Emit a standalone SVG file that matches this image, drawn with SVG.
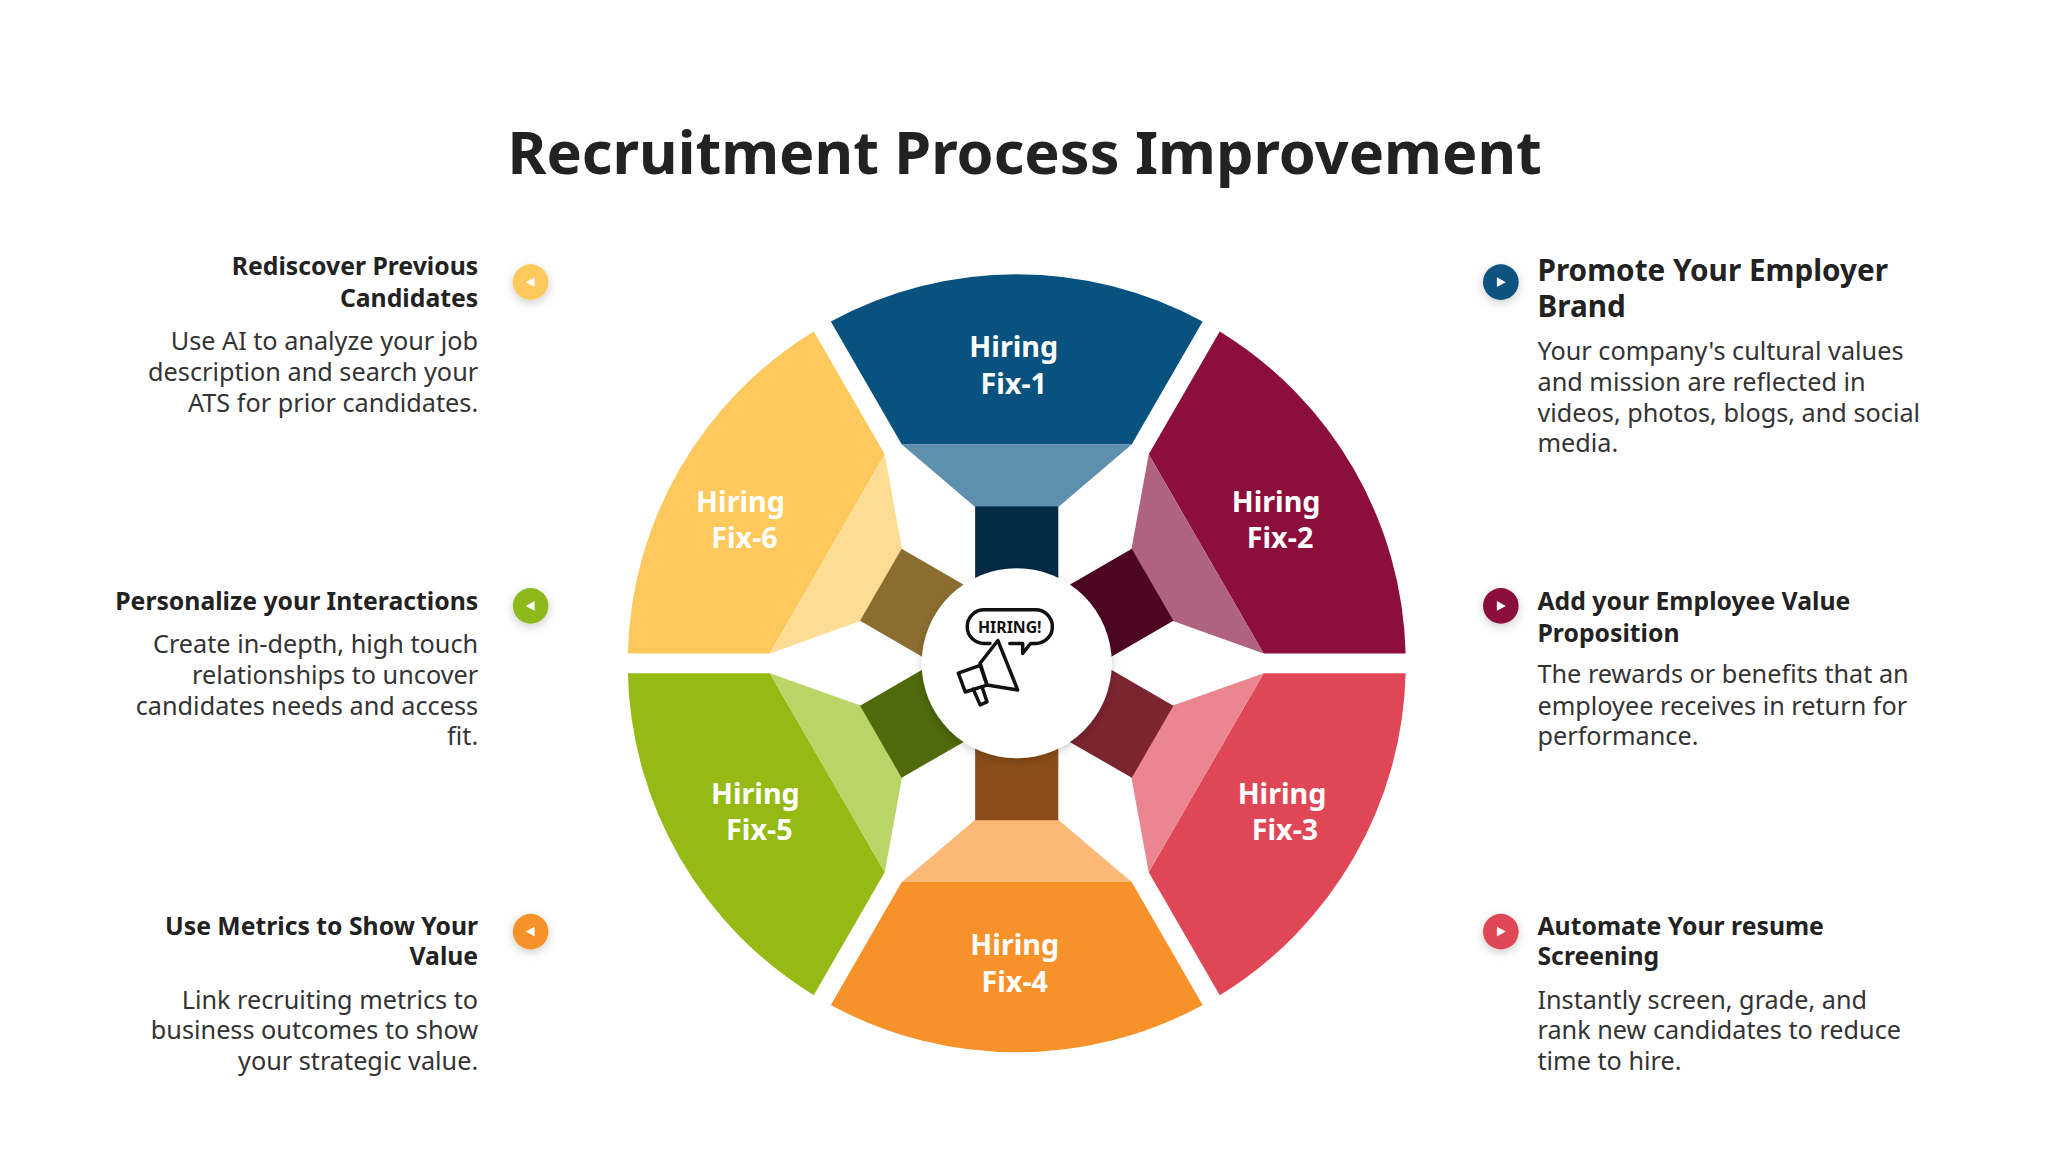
<svg xmlns="http://www.w3.org/2000/svg" width="2048" height="1152" viewBox="0 0 2048 1152">
<defs>
<filter id="sh" x="-50%" y="-50%" width="200%" height="200%"><feDropShadow dx="0" dy="3" stdDeviation="5" flood-color="#000" flood-opacity="0.2"/></filter>
<path id="outer" d="M -116.1,-221 L -187.8,-345.2 A 393 393 0 0 1 187.8,-345.2 L 116.1,-221 Z"/>
<path id="light" d="M -116.1,-221 L 116.1,-221 L 42,-158 L -42,-158 Z"/>
<rect id="bar" x="-42" y="-158.5" width="84" height="75"/>
</defs>
<style>
.lbl{font-family:"Noto Sans","Open Sans",sans-serif;font-weight:bold;font-size:29px;fill:#fff;text-anchor:middle}
.h{font-family:"Noto Sans","Open Sans",sans-serif;font-weight:bold;font-size:25px;fill:#222}
.big{font-size:30px}
.b{font-family:"Noto Sans","Open Sans",sans-serif;font-size:25.5px;fill:#333}
.l{text-anchor:end}
</style>
<rect width="2048" height="1152" fill="#fff"/>
<g transform="scale(0.99)">
<text x="1035" y="176" text-anchor="middle" font-family="Noto Sans,Open Sans,sans-serif" font-weight="bold" font-size="60" fill="#222">Recruitment Process Improvement</text>
<g transform="translate(1027,670)">
<g id="fix1"><use href="#outer" fill="#09527F"/><use href="#light" fill="#5E8FAD"/><use href="#bar" fill="#032B45"/></g>
<g id="fix2" transform="rotate(60)"><use href="#outer" fill="#8B0E3C"/><use href="#light" fill="#B0637F"/><use href="#bar" fill="#4D0622"/></g>
<g id="fix3" transform="rotate(120)"><use href="#outer" fill="#E04756"/><use href="#light" fill="#EB8590"/><use href="#bar" fill="#7C2530"/></g>
<g id="fix4" transform="rotate(180)"><use href="#outer" fill="#F7922B"/><use href="#light" fill="#FCB877"/><use href="#bar" fill="#8B4E19"/></g>
<g id="fix5" transform="rotate(240)"><use href="#outer" fill="#96BA14"/><use href="#light" fill="#B9D565"/><use href="#bar" fill="#4F6A0A"/></g>
<g id="fix6" transform="rotate(300)"><use href="#outer" fill="#FDC95C"/><use href="#light" fill="#FDDC93"/><use href="#bar" fill="#8B6E2F"/></g>
</g>
<g id="labels">
<text class="lbl" x="1024" y="361">Hiring</text><text class="lbl" x="1024" y="398">Fix-1</text>
<text class="lbl" x="1289" y="517">Hiring</text><text class="lbl" x="1293" y="554">Fix-2</text>
<text class="lbl" x="1295" y="812">Hiring</text><text class="lbl" x="1298" y="849">Fix-3</text>
<text class="lbl" x="1025" y="965">Hiring</text><text class="lbl" x="1025" y="1002">Fix-4</text>
<text class="lbl" x="763" y="812">Hiring</text><text class="lbl" x="767" y="849">Fix-5</text>
<text class="lbl" x="748" y="517">Hiring</text><text class="lbl" x="752" y="554">Fix-6</text>
</g>
<g id="hub">
<circle cx="1027" cy="670" r="96" fill="#fff" filter="url(#sh)"/>
<g fill="none" stroke="#111" stroke-width="3.5" stroke-linejoin="round" stroke-linecap="round">
<path d="M 994,616 L 1046,616 A 17 17 0 0 1 1046,650 L 1041,650 L 1033,660 L 1033,650 L 1020,650 M 1000,650 L 994,650 A 17 17 0 0 1 994,616"/>
<path d="M 990,670 L 1008,647 L 1028,697 L 997,692 Z"/>
<path d="M 968,680 L 990,672 L 997,692 L 975,699 Z"/>
<path d="M 983,696 L 990,712 L 997,709 L 992,694"/>
</g>
<text x="1020" y="639" text-anchor="middle" font-family="Noto Sans,sans-serif" font-weight="bold" font-size="16" fill="#111">HIRING!</text>
</g>
<g id="left">
<circle cx="536" cy="285" r="18" fill="#FDC95C" filter="url(#sh)"/><path d="M 531,285 L 540,280 L 540,290 Z" fill="#fff"/>
<circle cx="536" cy="612" r="18" fill="#8DB91E" filter="url(#sh)"/><path d="M 531,612 L 540,607 L 540,617 Z" fill="#fff"/>
<circle cx="536" cy="941" r="18" fill="#F7922B" filter="url(#sh)"/><path d="M 531,941 L 540,936 L 540,946 Z" fill="#fff"/>
<text class="h l" x="483" y="278">Rediscover Previous</text><text class="h l" x="483" y="310">Candidates</text>
<text class="b l" x="483" y="354">Use AI to analyze your job</text><text class="b l" x="483" y="385">description and search your</text><text class="b l" x="483" y="416">ATS for prior candidates.</text>
<text class="h l" x="483" y="616">Personalize your Interactions</text>
<text class="b l" x="483" y="660">Create in-depth, high touch</text><text class="b l" x="483" y="691">relationships to uncover</text><text class="b l" x="483" y="722">candidates needs and access</text><text class="b l" x="483" y="753">fit.</text>
<text class="h l" x="483" y="944">Use Metrics to Show Your</text><text class="h l" x="483" y="975">Value</text>
<text class="b l" x="483" y="1019">Link recruiting metrics to</text><text class="b l" x="483" y="1050">business outcomes to show</text><text class="b l" x="483" y="1081">your strategic value.</text>
</g>
<g id="right">
<circle cx="1516" cy="285" r="18" fill="#09527F" filter="url(#sh)"/><path d="M 1521,285 L 1512,280 L 1512,290 Z" fill="#fff"/>
<circle cx="1516" cy="612" r="18" fill="#8B0E3C" filter="url(#sh)"/><path d="M 1521,612 L 1512,607 L 1512,617 Z" fill="#fff"/>
<circle cx="1516" cy="941" r="18" fill="#E04756" filter="url(#sh)"/><path d="M 1521,941 L 1512,936 L 1512,946 Z" fill="#fff"/>
<text class="h big" x="1553" y="284">Promote Your Employer</text><text class="h big" x="1553" y="320">Brand</text>
<text class="b" x="1553" y="364">Your company's cultural values</text><text class="b" x="1553" y="395">and mission are reflected in</text><text class="b" x="1553" y="426">videos, photos, blogs, and social</text><text class="b" x="1553" y="457">media.</text>
<text class="h" x="1553" y="616">Add your Employee Value</text><text class="h" x="1553" y="648">Proposition</text>
<text class="b" x="1553" y="690">The rewards or benefits that an</text><text class="b" x="1553" y="722">employee receives in return for</text><text class="b" x="1553" y="753">performance.</text>
<text class="h" x="1553" y="944">Automate Your resume</text><text class="h" x="1553" y="975">Screening</text>
<text class="b" x="1553" y="1019">Instantly screen, grade, and</text><text class="b" x="1553" y="1050">rank new candidates to reduce</text><text class="b" x="1553" y="1081">time to hire.</text>
</g>
</g>
</svg>
